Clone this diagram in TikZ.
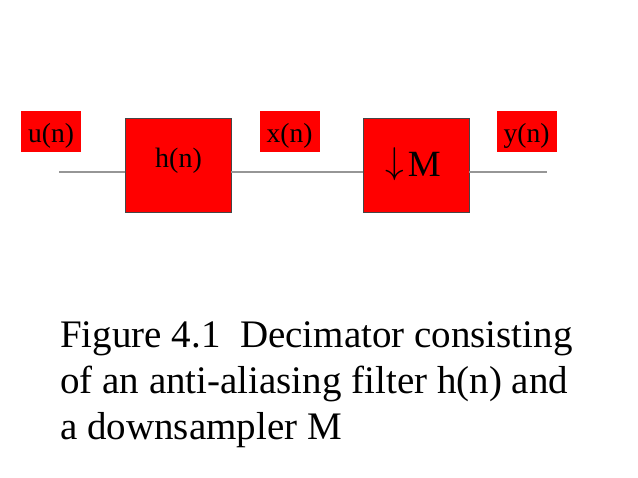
\documentclass[tikz,border=0pt]{standalone}
\usepackage{fontspec}
\usepackage{graphicx}
\setmainfont{Liberation Serif}
\definecolor{boxred}{RGB}{255,0,0}
\definecolor{wire}{RGB}{150,150,150}
\definecolor{rim}{RGB}{70,70,70}
\newcommand{\bigdownarrow}{\raisebox{3pt}{\scalebox{1.5}{$\downarrow$}}}
\tikzset{
  lbl/.style={fill=boxred, inner sep=0pt, minimum width=60pt, minimum height=41pt, text height=23pt, text depth=0pt, font=\fontsize{27.5}{30}\selectfont},
  blk/.style={fill=boxred, draw=rim, line width=0.8pt, inner sep=0pt, minimum width=106pt, minimum height=94pt},
  captext/.style={anchor=base west, inner sep=0pt, font=\fontsize{39}{46}\selectfont},
  conn/.style={draw=wire, line width=1.2pt}
}
\begin{document}
\begin{tikzpicture}[x=1pt,y=-1pt]
\useasboundingbox (0,0) rectangle (638,478);
\coordinate (in) at (59,172);
\coordinate (out) at (547,172);
\node[blk] (h) at (178,165) {};
\node[blk] (m) at (416,165) {};
\draw[conn] (in) -- (h.west |- in);
\draw[conn] (h.east |- in) -- (m.west |- in);
\draw[conn] (m.east |- in) -- (out);
\node[anchor=base, inner sep=0pt, font=\fontsize{28}{30}\selectfont] (ht) at (178.5,168) {h(n)};
\node[anchor=base west, inner sep=0pt, font=\fontsize{37}{40}\selectfont] (mt) at (385,177) {\bigdownarrow\kern4pt M};
\node[lbl] (u) at (51,131.5) {u(n)};
\node[lbl] (x) at (289.5,131.5) {x(n)};
\node[lbl] (y) at (526.5,131.5) {y(n)};
\node[captext] (c1) at (60,348) {Figure 4.1\ \ Decimator consisting};
\node[captext] (c2) at (60,394) {of an anti-aliasing filter h(n) and};
\node[captext] (c3) at (60,440) {a downsampler M};
\end{tikzpicture}
\end{document}
